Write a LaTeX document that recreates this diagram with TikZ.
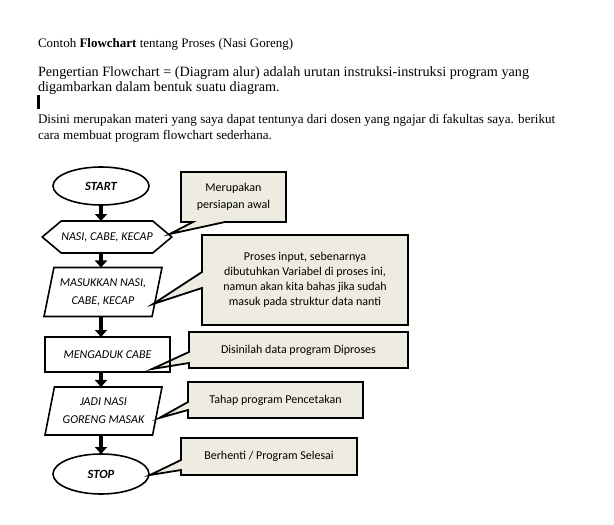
\documentclass[tikz,border=0pt]{standalone}
\usepackage{fontspec}
\setmainfont{Liberation Serif}
\newfontfamily\carlito{Carlito}
\usetikzlibrary{shapes.geometric,shapes.symbols,arrows.meta,backgrounds,calc}
\definecolor{notefill}{HTML}{EEECE1}

\begin{document}
\begin{tikzpicture}[x=1pt,y=1pt]
\tikzstyle{every node}+=[inner sep=0pt, outer sep=0pt]
\tikzstyle{header}=[anchor=base west]
\tikzstyle{flow}=[draw=black, line width=1.6pt, align=center, font=\carlito\itshape\fontsize{12}{18}\selectfont]
\tikzstyle{slant}=[flow, trapezium, trapezium left angle=70, trapezium right angle=110, trapezium stretches body]
\tikzstyle{flowarrow}=[black, line width=4pt, -{Triangle[width=12pt,length=7pt]}]
\tikzstyle{notetext}=[align=center, font=\carlito\fontsize{12}{15}\selectfont]
\tikzstyle{note}=[draw=black, line width=1.8pt, fill=notefill, line join=miter]
\path[use as bounding box] (0,0) rectangle (614,-525);
\node[header, font=\fontsize{13}{15}\selectfont] (title) at (38,-47) {Contoh \textbf{Flowchart} tentang Proses (Nasi Goreng)};
\node[header, font=\fontsize{14.2}{16}\selectfont] (def1) at (38,-76) {Pengertian Flowchart = (Diagram alur) adalah urutan instruksi-instruksi program yang};
\node[header, font=\fontsize{14.2}{16}\selectfont] (def2) at (38,-91) {digambarkan dalam bentuk suatu diagram.};
\fill[black] (37,-95) rectangle (39.5,-109);
\node[header, font=\fontsize{13.1}{15}\selectfont] (intro1) at (38,-123) {Disini merupakan materi yang saya dapat tentunya dari dosen yang ngajar di fakultas saya. berikut};
\node[header, font=\fontsize{13.1}{15}\selectfont] (intro2) at (38,-139) {cara membuat program flowchart sederhana.};
\node[flow, ellipse, minimum width=96pt, minimum height=38pt, font=\carlito\bfseries\itshape\fontsize{12.5}{14}\selectfont] (start) at (101,-186) {START};
\node[flow, signal, signal to=west and east, signal pointer angle=80, minimum width=126pt, minimum height=32pt] (hex) at (107,-237) {NASI, CABE, KECAP};
\node[slant, minimum width=118pt, minimum height=49pt] (masuk) at (103,-292) {MASUKKAN NASI,\\CABE, KECAP};
\node[flow, minimum width=125pt, minimum height=35pt] (aduk) at (107.5,-354.5) {MENGADUK CABE};
\node[slant, minimum width=117pt, minimum height=48pt] (jadi) at (103.5,-411) {JADI NASI\\GORENG MASAK};
\node[flow, ellipse, minimum width=96pt, minimum height=40pt, font=\carlito\bfseries\itshape\fontsize{12.5}{14}\selectfont] (stop) at (101,-474) {STOP};
\draw[flowarrow] (start.south) -- (start |- hex.north);
\draw[flowarrow] (start |- hex.south) -- (start |- masuk.north);
\draw[flowarrow] (start |- masuk.south) -- (start |- aduk.north);
\draw[flowarrow] (start |- aduk.south) -- (start |- jadi.north);
\draw[flowarrow] (start |- jadi.south) -- (stop.north);
\coordinate (t1) at ($(hex.east)+(-2,3)$);
\coordinate (t2) at ($(masuk.center)+(50,-12)$);
\coordinate (t3) at ($(aduk.south east)+(-18,3)$);
\coordinate (t4) at ($(jadi.east)+(2,-7)$);
\coordinate (t5) at ($(stop.east)+(1,-1)$);
\node[notetext, font=\carlito\fontsize{12}{17}\selectfont, minimum width=105pt, minimum height=50pt] (n1) at (233.5,-197) {Merupakan\\persiapan awal};
\node[notetext, minimum width=206pt, minimum height=90pt] (n2) at (305,-280) {Proses input, sebenarnya\\dibutuhkan Variabel di proses ini,\\namun akan kita bahas jika sudah\\masuk pada struktur data nanti};
\node[notetext, minimum width=219pt, minimum height=36pt] (n3) at (298.5,-350) {Disinilah data program Diproses};
\node[notetext, minimum width=175pt, minimum height=36pt] (n4) at (275.5,-400) {Tahap program Pencetakan};
\node[notetext, minimum width=176pt, minimum height=37pt] (n5) at (269,-456.5) {Berhenti / Program Selesai};
\begin{scope}[on background layer]
\fill[white] (0,0) rectangle (614,-525);
\filldraw[note] (n1.north west) -- (n1.north east) -- (n1.south east) -- ($(n1.south west)+(44,0)$) -- (t1) -- ($(n1.south west)+(12,0)$) -- (n1.south west) -- cycle;
\filldraw[note] (n2.north west) -- (n2.north east) -- (n2.south east) -- (n2.south west) -- ($(n2.south west)+(0,37)$) -- (t2) -- ($(n2.south west)+(0,53)$) -- cycle;
\filldraw[note] (n3.north west) -- (n3.north east) -- (n3.south east) -- (n3.south west) -- ($(n3.south west)+(0,5)$) -- (t3) -- ($(n3.south west)+(0,16)$) -- cycle;
\filldraw[note] (n4.north west) -- (n4.north east) -- (n4.south east) -- (n4.south west) -- ($(n4.south west)+(0,8)$) -- (t4) -- ($(n4.south west)+(0,16)$) -- cycle;
\filldraw[note] (n5.north west) -- (n5.north east) -- (n5.south east) -- (n5.south west) -- ($(n5.south west)+(0,5)$) -- (t5) -- ($(n5.south west)+(0,15)$) -- cycle;
\end{scope}
\end{tikzpicture}
\end{document}
